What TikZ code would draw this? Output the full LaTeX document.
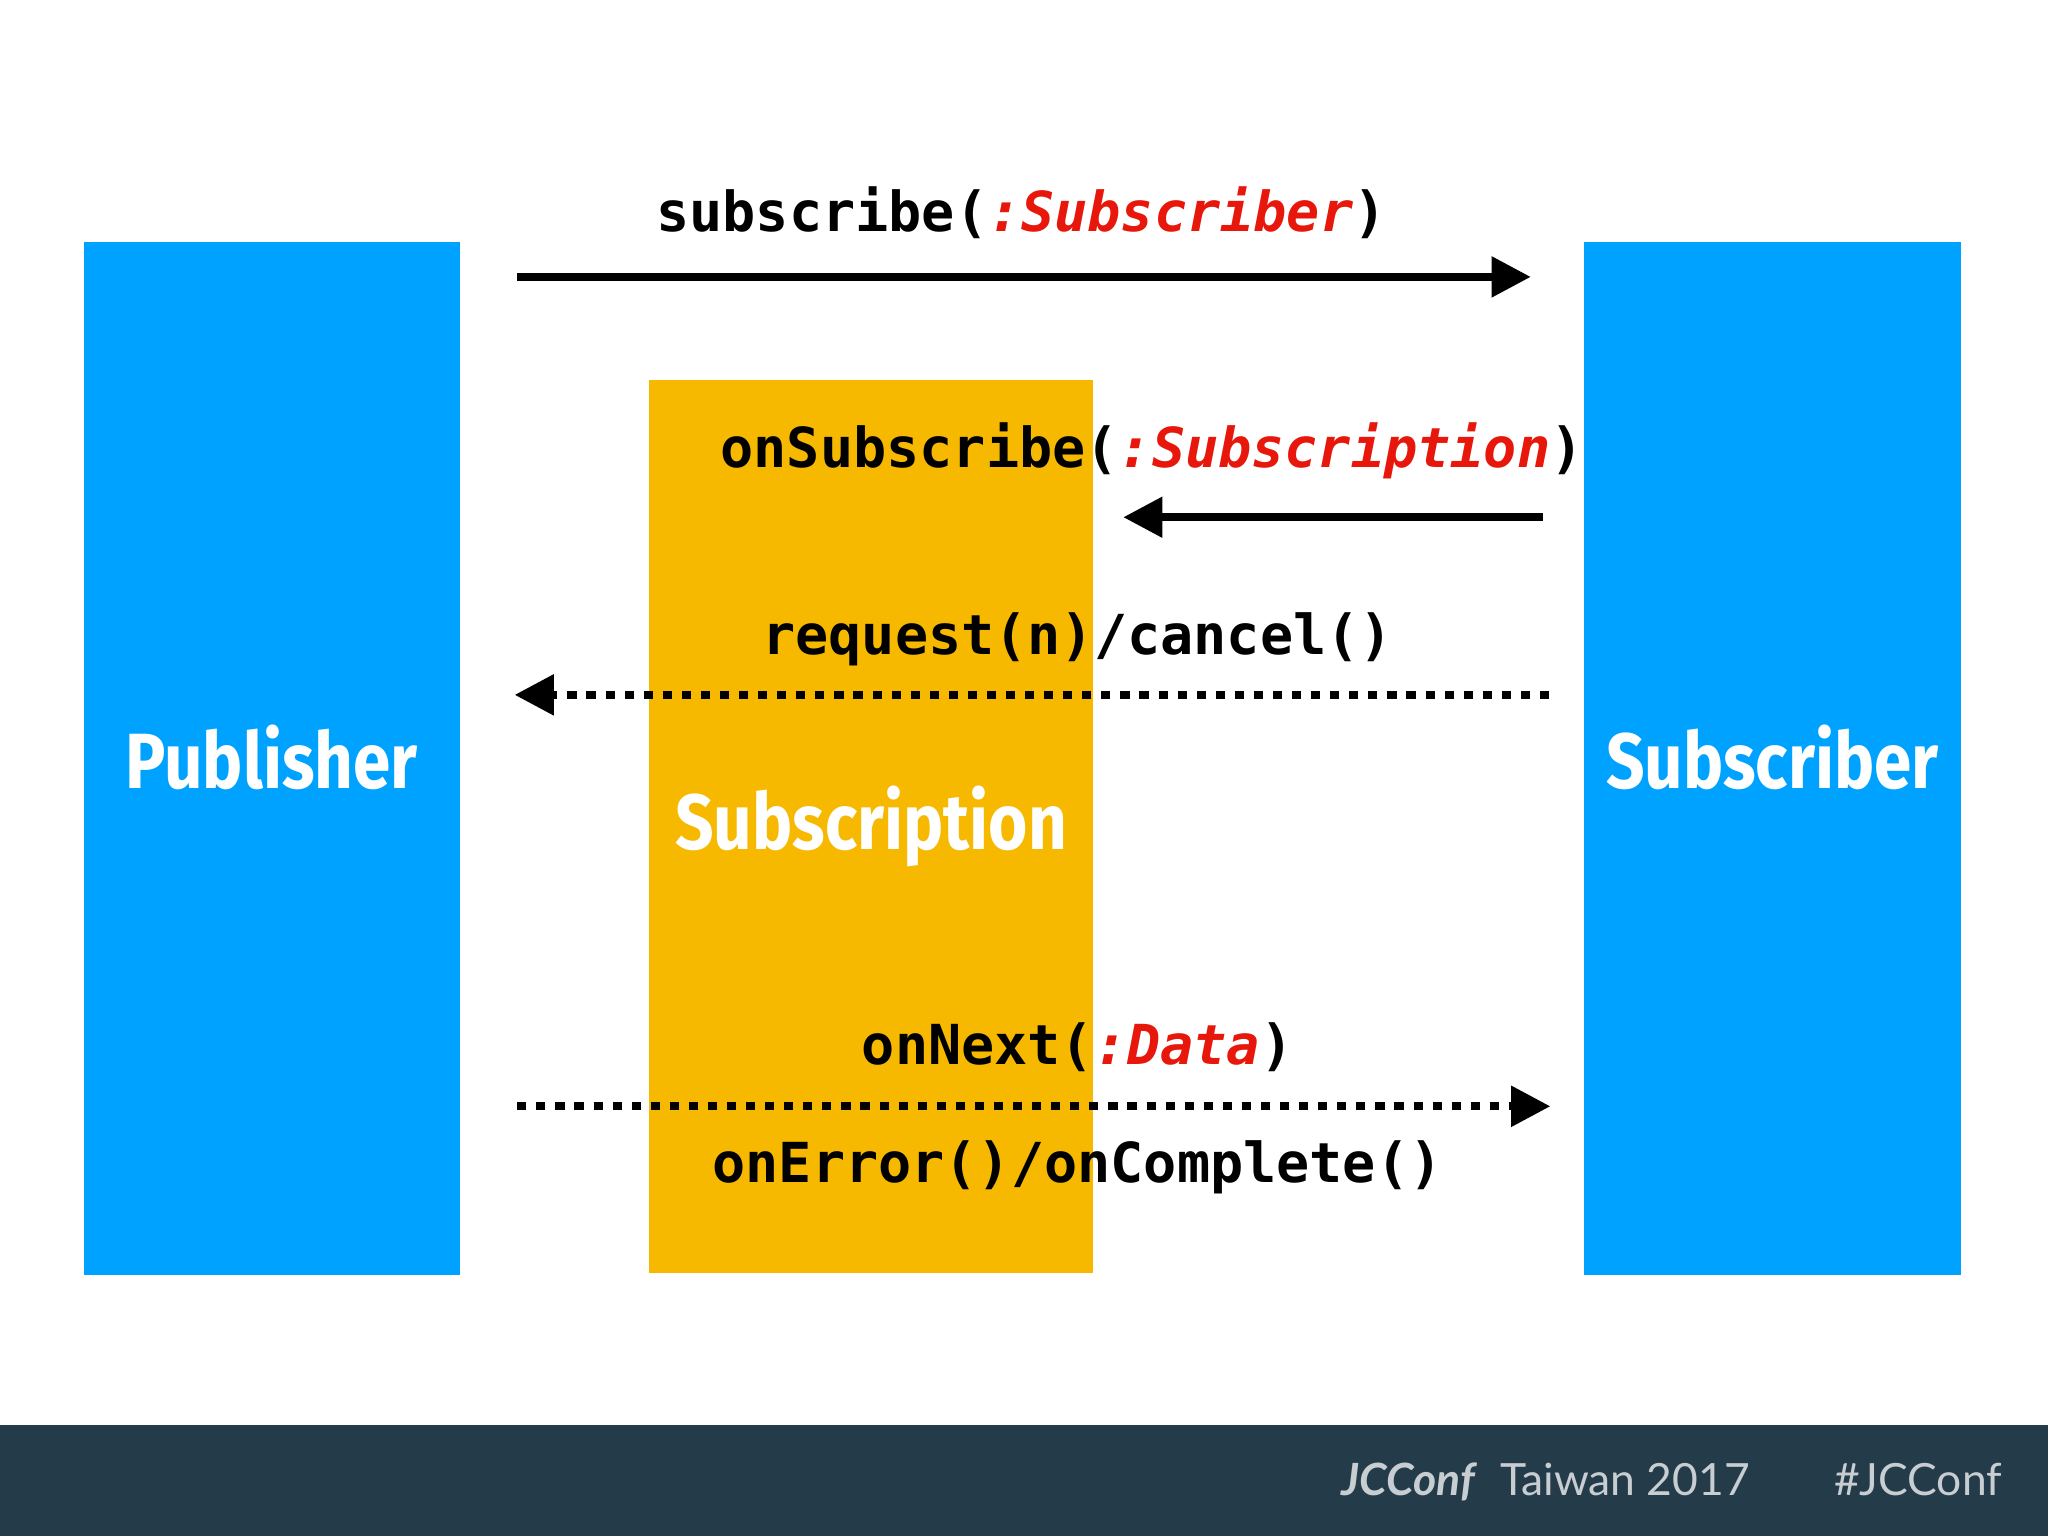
\documentclass[tikz,border=0pt]{standalone}
\usepackage{fontspec}
\setmonofont{DejaVu Sans Mono}
\newfontfamily\labfont{Fira Sans}
\newfontfamily\footfont{Lato}
\usetikzlibrary{arrows.meta}
\definecolor{pubblue}{HTML}{00A2FF}
\definecolor{subyel}{HTML}{F7B900}
\definecolor{footbg}{HTML}{243B4A}
\definecolor{footfg}{HTML}{C8CDD1}
\definecolor{argred}{HTML}{E8170B}
\begin{document}
\begin{tikzpicture}[x=1pt,y=-1pt,
  mono/.style={font=\fontsize{42.2}{44}\ttfamily\bfseries, inner sep=0pt, anchor=base},
  big/.style={font=\fontsize{60}{64}\labfont\bfseries, text=white, inner sep=0pt},
  msg/.style={line width=6pt, -{Triangle[length=30pt,width=30pt]}},
  dmsg/.style={msg, dash pattern=on 7pt off 7.6pt}]
\fill[white] (0,0) rectangle (1568,1176);
\useasboundingbox (0,0) rectangle (1568,1176);
\fill[footbg] (0,1091) rectangle (1568,1176);
\fill[pubblue] (64,185) rectangle (352,976);
\fill[pubblue] (1213,185) rectangle (1501,976);
\fill[subyel] (497,291) rectangle (837,975);
\node[big] (pub) at (208,580) {\scalebox{0.86}[1]{Publisher}};
\node[big] (sub) at (1357,580) {\scalebox{0.86}[1]{Subscriber}};
\node[big] (sn) at (667,633) {\scalebox{0.86}[1]{Subscription}};
\coordinate (a1s) at (396,212); \coordinate (a1e) at (1172,212);
\coordinate (a2s) at (1181,396); \coordinate (a2e) at (860,396);
\coordinate (a3s) at (1186,532); \coordinate (a3e) at (394,532);
\coordinate (a4s) at (396,847); \coordinate (a4e) at (1187,847);
\draw[msg] (a1s) -- (a1e);
\draw[msg] (a2s) -- (a2e);
\draw[dmsg] (a3s) -- (a3e);
\draw[dmsg] (a4s) -- (a4e);
\node[mono] (l1) at (782,177) {subscribe(\textcolor{argred}{\itshape :Subscriber})};
\node[mono] (l2) at (882,358) {onSubscribe(\textcolor{argred}{\itshape :Subscription})};
\node[mono] (l3) at (825,501) {request(n)/cancel()};
\node[mono] (l4) at (825,815) {onNext(\textcolor{argred}{\itshape :Data})};
\node[mono] (l5) at (825,905) {onError()/onComplete()};
\node[font=\fontsize{34}{36}\footfont, text=footfg, anchor=base east, inner sep=0pt] (ft1) at (1340,1145) {\textbf{\itshape JCConf}\ \ Taiwan 2017};
\node[font=\fontsize{34}{36}\footfont, text=footfg, anchor=base east, inner sep=0pt] (ft2) at (1533,1145) {\#JCConf};
\end{tikzpicture}
\end{document}
